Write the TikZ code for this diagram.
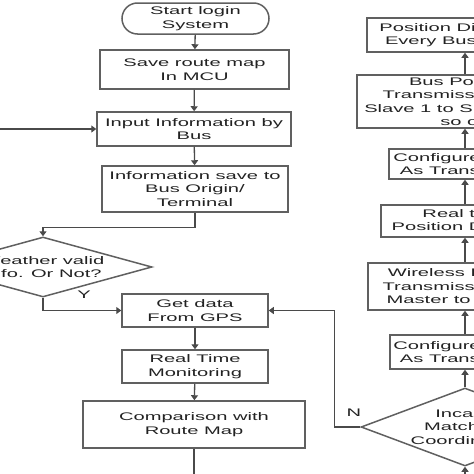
\documentclass[tikz,border=0pt]{standalone}
\usepackage{fontspec}
\setmainfont{Liberation Sans}[FakeStretch=1.83]
\usetikzlibrary{arrows.meta,shapes.geometric}
\definecolor{boxgray}{HTML}{606060}
\definecolor{linec}{HTML}{4A4A4A}
\definecolor{textc}{HTML}{222222}
\begin{document}
\begin{tikzpicture}[x=1pt,y=-1pt,
  txt/.style={font=\fontsize{11}{13.5}\selectfont, text=textc, align=center},
  box/.style={txt, draw=boxgray, line width=1.5pt, rectangle, inner sep=0pt},
  dec/.style={draw=boxgray, line width=1.5pt, diamond, inner sep=0pt},
  ln/.style={draw=linec, line width=1.3pt},
  arr/.style={ln, -{Triangle[length=5pt,width=7pt]}}]
\useasboundingbox (0,0) rectangle (474,474);
% left column
\node[box, rounded corners=15.5pt, minimum width=147pt, minimum height=31pt] (start) at (195.5,18.5) {Start login\\System};
\node[box, minimum width=189pt, minimum height=39pt] (save) at (194.5,69.5) {Save route map\\In MCU};
\node[box, minimum width=194pt, minimum height=34pt] (input) at (194,129) {Input Information by\\Bus};
\node[box, minimum width=186pt, minimum height=46pt] (infosave) at (195,189) {Information save to\\Bus Origin/\\Terminal};
\node[dec, minimum width=218pt, minimum height=60pt,
  label={[txt]center:Weather valid\\Info. Or Not?}] (weather) at (43,267) {};
\node[box, minimum width=146pt, minimum height=33pt] (getdata) at (195,310.5) {Get data\\From GPS};
\node[box, minimum width=146pt, minimum height=33pt] (realtime) at (195,366.5) {Real Time\\Monitoring};
\node[box, minimum width=222pt, minimum height=47pt] (compare) at (194,424.5) {Comparison with\\Route Map};
% right column
\node[box, minimum width=196pt, minimum height=34pt] (display) at (465,35) {Position Display on\\Every Bus Station};
\node[box, minimum width=216pt, minimum height=53pt] (buspos) at (465,101.5) {Bus Position\\Transmission from\\Slave 1 to Slave 2 and\\so on};
\node[box, minimum width=152pt, minimum height=30pt] (conf1) at (465,164) {Configure Slave\\As Transmitter};
\node[box, minimum width=168pt, minimum height=32pt] (realpos) at (465,221) {Real time\\Position Data by};
\node[box, minimum width=194pt, minimum height=47pt] (wireless) at (465,286.5) {Wireless Position\\Transmission from\\Master to Slave 1};
\node[box, minimum width=150pt, minimum height=34pt] (conf2) at (465,352) {Configure Slave\\As Transmitter};
\node[dec, minimum width=208pt, minimum height=78pt,
  label={[txt]center:Incase\\Matching\\Coordinates}] (match) at (465,427) {};
% labels
\node[txt] (ylab) at (84,295) {Y};
\node[txt] (nlab) at (354,413) {N};
% free ends
\coordinate (inleft) at (-5,129);
\coordinate (cmpend) at (194,480);
\coordinate (matchin) at (465,480);
% connectors
\draw[arr] (start) -- (save);
\draw[arr] (save) -- (input);
\draw[arr] (input) -- (infosave);
\draw[arr] (inleft) -- (input.west);
\draw[arr] (infosave.south) -- ++(0,15) -| (weather.north);
\draw[arr] (weather.south) |- (getdata.west);
\draw[arr] (getdata) -- (realtime);
\draw[arr] (realtime) -- (compare);
\draw[ln] (compare.south) -- (cmpend);
\draw[arr] (match.west) -- ++(-26,0) |- (getdata.east);
\draw[arr] (matchin) -- (match.south);
\draw[arr] (match.north) -- (conf2.south);
\draw[arr] (conf2) -- (wireless);
\draw[arr] (wireless) -- (realpos);
\draw[arr] (realpos) -- (conf1);
\draw[arr] (conf1) -- (buspos);
\draw[arr] (buspos) -- (display);
\end{tikzpicture}
\end{document}
